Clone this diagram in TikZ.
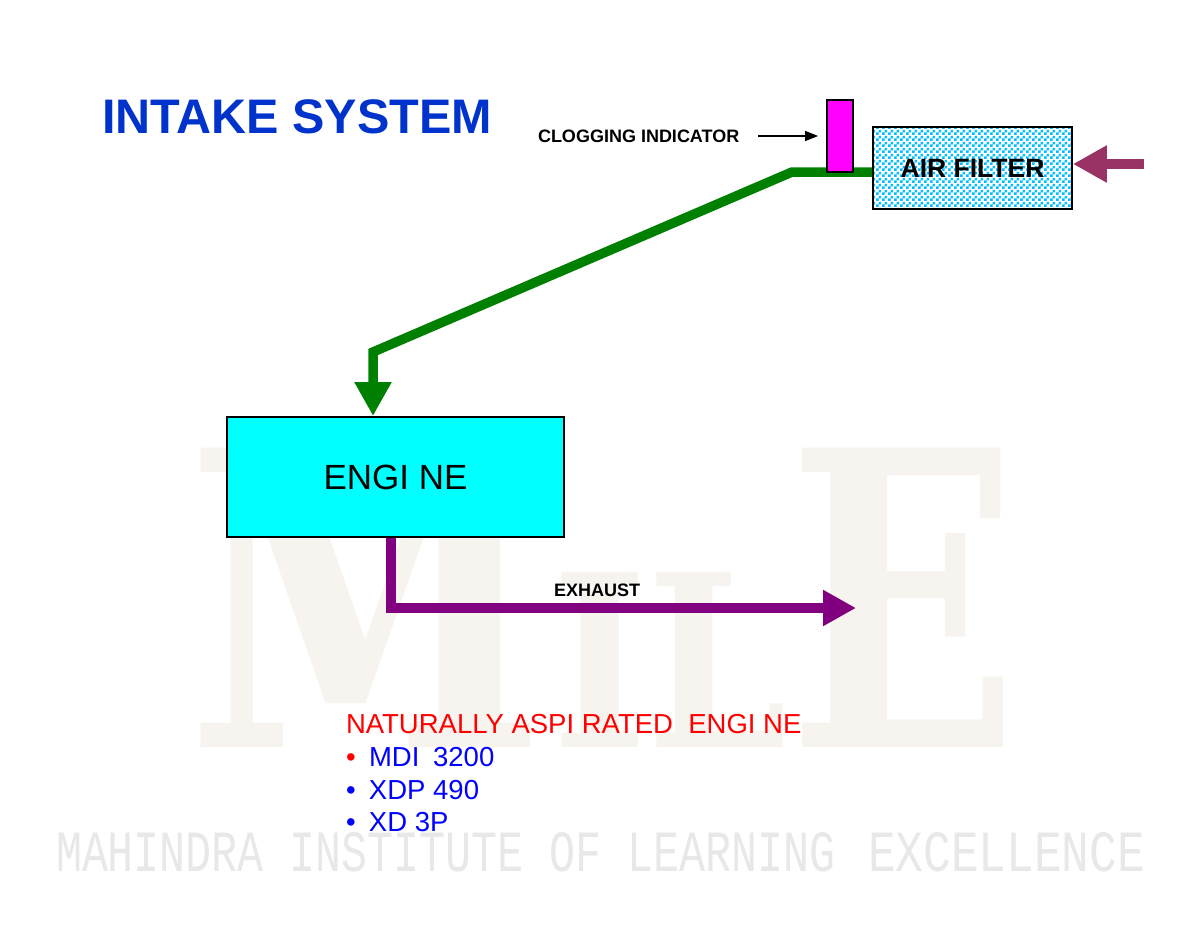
\documentclass[tikz,border=0pt]{standalone}
\usepackage{fontspec}
\setmainfont{Liberation Sans}
\newfontfamily\wmfont{DejaVu Serif}
\newfontfamily\wmmono{Liberation Mono}
\usepackage{graphicx}
\usetikzlibrary{arrows.meta,patterns}
\definecolor{titleblue}{RGB}{0,51,204}
\definecolor{textblue}{RGB}{0,0,255}
\definecolor{textred}{RGB}{255,0,0}
\definecolor{pipegreen}{RGB}{0,128,0}
\definecolor{exhpurple}{RGB}{128,0,128}
\definecolor{inletcol}{RGB}{153,51,102}
\definecolor{indmag}{RGB}{255,0,255}
\definecolor{engcyan}{RGB}{0,255,255}
\definecolor{chkcyan}{RGB}{0,190,255}
\definecolor{wmbeige}{RGB}{247,244,239}
\definecolor{wmgray}{RGB}{232,232,232}
\pgfdeclarepatternformonly{chk}{\pgfpointorigin}{\pgfqpoint{6pt}{6pt}}{\pgfqpoint{6pt}{6pt}}{%
  \pgfpathrectangle{\pgfpointorigin}{\pgfqpoint{3pt}{3pt}}%
  \pgfpathrectangle{\pgfqpoint{3pt}{3pt}}{\pgfqpoint{3pt}{3pt}}%
  \pgfusepath{fill}}
\begin{document}
\begin{tikzpicture}[x=1pt,y=-1pt,
  wm/.style={inner sep=0pt,outer sep=0pt,anchor=south west,text=wmbeige},
  wmtext/.style={inner sep=0pt,outer sep=0pt,anchor=south west,text=wmgray},
  lbl/.style={inner sep=0pt,outer sep=0pt},
  blockbox/.style={draw=black,line width=2pt,inner sep=0pt},
  pipe/.style={draw=pipegreen,line width=9.5pt,line join=miter,-{Triangle[length=34pt,width=35pt]}},
  exh/.style={draw=exhpurple,line width=10pt,line join=miter,-{Triangle[length=33pt,width=34pt]}},
  inlet/.style={draw=inletcol,line width=10pt,-{Triangle[length=34pt,width=35pt]}},
  thinarrow/.style={draw=black,line width=1.4pt,-{Triangle[length=13pt,width=10pt]}}
]
\useasboundingbox[fill=white] (0,0) rectangle (1200,927);
% watermark
\node[wm] (wmM) at (187,747) {\resizebox{358pt}{299pt}{\wmfont\bfseries M}};
\node[wm] (wmI) at (552,747) {\resizebox{95pt}{175pt}{\wmfont\bfseries I}};
\node[wm] (wmL) at (647,747) {\resizebox{140pt}{175pt}{\wmfont\bfseries L}};
\node[wm] (wmE) at (788,747) {\resizebox{230pt}{299pt}{\wmfont\bfseries E}};
\node[wmtext] (wmt1) at (56,872) {\resizebox{780pt}{39pt}{\wmmono MAHINDRA INSTITUTE OF LEARNING}};
\node[wmtext] (wmt2) at (868,872) {\resizebox{277pt}{39pt}{\wmmono EXCELLENCE}};
% title
\node[lbl,anchor=base west,text=titleblue] (title) at (102,133)
  {\fontsize{48.5pt}{52pt}\selectfont\bfseries INTAKE SYSTEM};
% boxes
\node[blockbox,fill=engcyan,minimum width=337pt,minimum height=120pt] (engine) at (395.5,477)
  {\raisebox{-4pt}{\fontsize{35pt}{40pt}\selectfont ENGI NE}};
\node[blockbox,line width=1.8pt,preaction={fill=white},pattern=chk,pattern color=chkcyan,
  minimum width=199pt,minimum height=82pt] (air) at (972.5,168)
  {\fontsize{26.5pt}{30pt}\selectfont\bfseries AIR FILTER};
% green intake pipe
\coordinate (bend1) at (792,172);
\coordinate (bend2) at (373,352);
\draw[pipe] (air.west |- bend1) -- (bend1) -- (bend2) -- (bend2 |- engine.north);
% clogging indicator
\node[blockbox,line width=1.8pt,fill=indmag,minimum width=26pt,minimum height=72pt] (ind) at (840,136) {};
\node[lbl,anchor=west] (clog) at (538,136)
  {\fontsize{18pt}{20pt}\selectfont\bfseries CLOGGING INDICATOR};
\draw[thinarrow,shorten <=19pt,shorten >=8pt] (clog.east) -- (clog.east -| ind.west);
% inlet arrow
\coordinate (inletstart) at (1144,164);
\draw[inlet] (inletstart) -- (air.east |- inletstart);
% exhaust
\coordinate (exbend) at (391,608);
\coordinate (exend) at (856,608);
\draw[exh] (engine.south -| exbend) -- (exbend) -- (exend);
\node[lbl,anchor=base west] (exlabel) at (554,596)
  {\fontsize{18pt}{20pt}\selectfont\bfseries EXHAUST};
% engine list
\node[lbl,anchor=base west,text=textred] (natasp) at (346,733)
  {\fontsize{27.5pt}{30pt}\selectfont NATURALLY ASPI RATED\hspace{0.28em} ENGI NE};
\node[lbl,anchor=base west,text=textblue] (m1) at (346,766)
  {\fontsize{27.5pt}{30pt}\selectfont\makebox[23pt][l]{\textcolor{textred}{•}}MDI\hspace{0.5em}3200};
\node[lbl,anchor=base west,text=textblue] (m2) at (346,799)
  {\fontsize{27.5pt}{30pt}\selectfont\makebox[23pt][l]{•}XDP 490};
\node[lbl,anchor=base west,text=textblue] (m3) at (346,831)
  {\fontsize{27.5pt}{30pt}\selectfont\makebox[23pt][l]{•}XD 3P};
\end{tikzpicture}
\end{document}
